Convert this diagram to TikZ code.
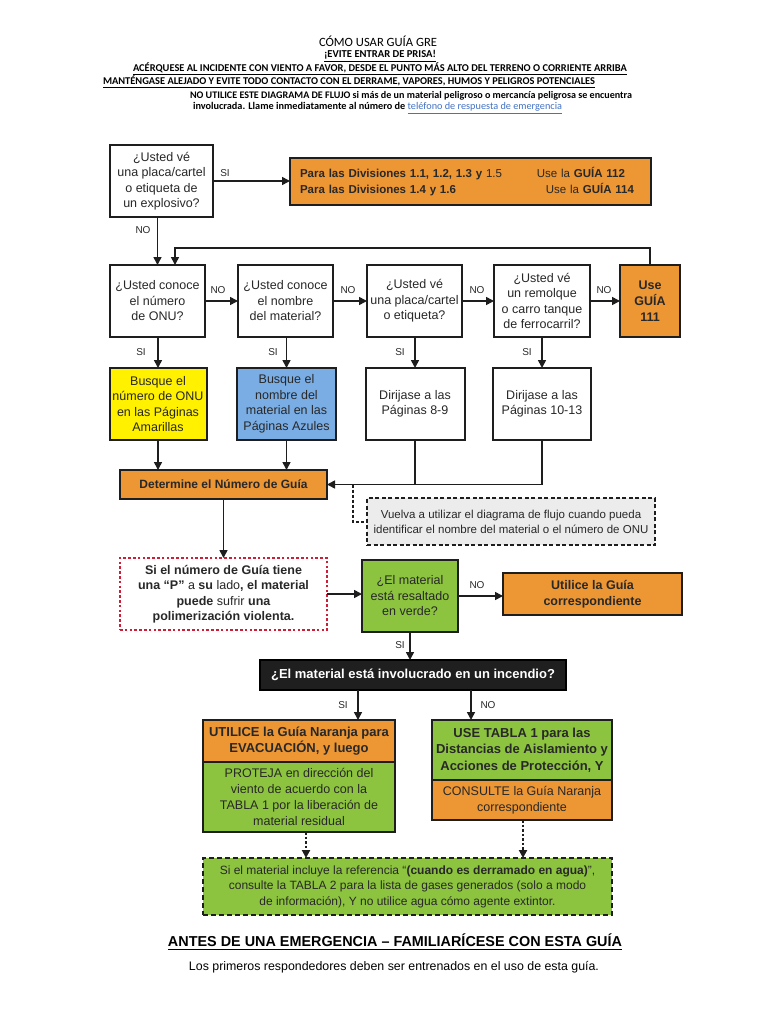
\documentclass[tikz,border=0pt]{standalone}
\usepackage{fontspec}
\setmainfont{Liberation Sans}
\newfontfamily\calib{Carlito}
\usetikzlibrary{arrows.meta}
\definecolor{gorange}{RGB}{236,150,52}
\definecolor{ggreen}{RGB}{141,196,63}
\definecolor{gyellow}{RGB}{255,241,0}
\definecolor{gblue}{RGB}{122,173,228}
\definecolor{ggrey}{RGB}{236,236,236}
\definecolor{gred}{RGB}{205,30,55}
\definecolor{glink}{RGB}{68,114,196}
\definecolor{gtext}{RGB}{40,40,40}
\definecolor{gline}{RGB}{30,30,30}
\newcommand\myfs[2]{\fontsize{#1}{#2}\selectfont}
\begin{document}
\begin{tikzpicture}[x=1pt,y=-1pt,
  box/.style={draw=gline, line width=2pt, fill=white, align=center, inner sep=0pt, outer sep=0pt, text=gtext, font=\myfs{12.5}{15.5}},
  lab/.style={font=\myfs{10}{12}, text=gtext, inner sep=0pt},
  arr/.style={draw=gline, line width=1.6pt, -{Triangle[length=8pt,width=8pt]}},
  ln/.style={draw=gline, line width=1.6pt},
  dashln/.style={draw=gline, line width=2pt, dash pattern=on 3pt off 2pt},
  dotarr/.style={draw=gline, line width=2.4pt, dash pattern=on 2.5pt off 2pt, -{Triangle[length=8pt,width=8pt]}},
  hdr/.style={inner sep=0pt, outer sep=0pt}
]
\useasboundingbox[fill=white] (0,0) rectangle (768,1024);

% ---------- header ----------
\node[hdr] (h1) at (378,41) {\resizebox{118pt}{!}{\calib CÓMO USAR GUÍA GRE}};
\node[hdr] (h2) at (380,56) {\resizebox{112pt}{!}{\calib\bfseries\underline{¡EVITE ENTRAR DE PRISA!}}};
\node[hdr, anchor=west] (h3) at (133,69) {\resizebox{494pt}{!}{\calib\bfseries\underline{ACÉRQUESE AL INCIDENTE CON VIENTO A FAVOR, DESDE EL PUNTO MÁS ALTO DEL TERRENO O CORRIENTE ARRIBA}}};
\node[hdr, anchor=west] (h4) at (103,82) {\resizebox{492pt}{!}{\calib\bfseries\underline{MANTÉNGASE ALEJADO Y EVITE TODO CONTACTO CON EL DERRAME, VAPORES, HUMOS Y PELIGROS POTENCIALES}}};
\node[hdr, anchor=west] (h5) at (190,96) {\resizebox{442pt}{!}{\calib\bfseries NO UTILICE ESTE DIAGRAMA DE FLUJO si más de un material peligroso o mercancía peligrosa se encuentra}};
\node[hdr, anchor=west] (h6) at (193,108) {\resizebox{369pt}{!}{\calib\bfseries involucrada. Llame inmediatamente al número de \mdseries\textcolor{glink}{\underline{teléfono de respuesta de emergencia}}}};

% ---------- row 1 ----------
\node[box, minimum width=103pt, minimum height=72pt] (q1) at (161.5,181) {¿Usted vé\\una placa/cartel\\o etiqueta de\\un explosivo?};
\node[box, fill=gorange, minimum width=361pt, minimum height=47pt, text width=341pt, align=left, font=\myfs{11.5}{16}] (div) at (470.5,181.5)
  {\makebox[325pt][l]{\textbf{Para las Divisiones 1.1, 1.2, 1.3 y} 1.5\hfill Use la \textbf{GUÍA 112}}\\
   \makebox[334pt][l]{\textbf{Para las Divisiones 1.4 y 1.6}\hfill Use la \textbf{GUÍA 114}}};
\draw[arr] (q1.east) -- (q1.east -| div.west);
\node[lab] (si1) at (225,173) {SI};

% ---------- row 2 ----------
\node[box, minimum width=95pt, minimum height=72pt] (onu) at (157.5,301) {¿Usted conoce\\el número\\de ONU?};
\node[box, minimum width=95pt, minimum height=72pt] (nom) at (285.5,301) {¿Usted conoce\\el nombre\\del material?};
\node[box, minimum width=95pt, minimum height=72pt] (pla) at (414.5,301) {¿Usted vé\\una placa/cartel\\o etiqueta?};
\node[box, minimum width=96pt, minimum height=72pt] (rem) at (542,301) {¿Usted vé\\un remolque\\o carro tanque\\de ferrocarril?};
\node[box, fill=gorange, minimum width=60pt, minimum height=72pt, font=\bfseries\myfs{12.5}{16}] (g111) at (650,301) {Use\\GUÍA\\111};

\draw[arr] (onu.north |- q1.south) -- (onu.north);
\node[lab] (no1) at (143,230) {NO};
\draw[arr] (g111.north) -- ++(0,-17) -| ([xshift=17.5pt]onu.north);

\draw[arr] (onu.east) -- (nom.west);
\draw[arr] (nom.east) -- (pla.west);
\draw[arr] (pla.east) -- (rem.west);
\draw[arr] (rem.east) -- (g111.west);
\node[lab] (no2) at (218,290) {NO};
\node[lab] (no3) at (348,290) {NO};
\node[lab] (no4) at (477,290) {NO};
\node[lab] (no5) at (604,290) {NO};

% ---------- row 3 ----------
\node[box, fill=gyellow, minimum width=97pt, minimum height=72pt] (yel) at (158,404) {Busque el\\número de ONU\\en las Páginas\\Amarillas};
\node[box, fill=gblue, minimum width=99pt, minimum height=72pt] (blu) at (286.5,404) {Busque el\\nombre del\\material en las\\Páginas Azules};
\node[box, minimum width=99pt, minimum height=72pt] (p89) at (415,404) {Dirijase a las\\Páginas 8-9};
\node[box, minimum width=98pt, minimum height=72pt] (p1013) at (542,404) {Dirijase a las\\Páginas 10-13};

\draw[arr] (onu.south -| yel.north) -- (yel.north);
\draw[arr] (nom.south -| blu.north) -- (blu.north);
\draw[arr] (pla.south -| p89.north) -- (p89.north);
\draw[arr] (rem.south) -- (rem.south |- p1013.north);
\node[lab] (si2) at (141,352) {SI};
\node[lab] (si3) at (273,352) {SI};
\node[lab] (si4) at (400,352) {SI};
\node[lab] (si5) at (527,352) {SI};

% ---------- determine ----------
\node[box, fill=gorange, minimum width=207pt, minimum height=29pt, font=\bfseries\myfs{12}{14}] (det) at (223.5,484.5) {Determine el Número de Guía};
\draw[arr] (yel.south) -- (yel.south |- det.north);
\draw[arr] (blu.south) -- (blu.south |- det.north);
\draw[ln] (p89.south) -- (p89.south |- det.east);
\draw[arr] (p1013.south) |- (det.east);

\node[box, fill=ggrey, draw=gline, line width=2.2pt, dash pattern=on 4pt off 2.5pt, minimum width=288pt, minimum height=47pt, font=\myfs{11.5}{15}] (vue) at (511,521.5) {Vuelva a utilizar el diagrama de flujo cuando pueda\\identificar el nombre del material o el número de ONU};
\coordinate (dj) at (353,484.5);
\draw[dashln] (dj) |- (vue.west);

% ---------- P box & green question ----------
\node[box, draw=gred, line width=2.6pt, dash pattern=on 2.6pt off 2.2pt, minimum width=207pt, minimum height=72pt, font=\myfs{12.5}{15.5}] (pbx) at (223.5,594)
  {\textbf{Si el número de Guía tiene}\\\textbf{una “P”} a \textbf{su} lado\textbf{, el material}\\\textbf{puede} sufrir \textbf{una}\\\textbf{polimerización violenta.}};
\draw[arr] (det.south) -- (pbx.north);

\node[box, fill=ggreen, minimum width=96pt, minimum height=72pt] (grq) at (410,596) {¿El material\\está resaltado\\en verde?};
\draw[arr] (pbx.east) -- (pbx.east -| grq.west);
\node[box, fill=gorange, minimum width=179pt, minimum height=42pt, font=\bfseries\myfs{12.5}{15.5}] (uti) at (592.5,594) {Utilice la Guía\\correspondiente};
\draw[arr] (grq.east) -- (grq.east -| uti.west);
\node[lab] (no6) at (477,585) {NO};

% ---------- fire question ----------
\node[box, fill=black!88, draw=black, text=white, minimum width=306pt, minimum height=30pt, font=\bfseries\myfs{13}{15}] (fire) at (413,675) {¿El material está involucrado en un incendio?};
\draw[arr] (grq.south) -- (grq.south |- fire.north);
\node[lab] (si6) at (400,645) {SI};

% ---------- bottom boxes ----------
\node[box, fill=gorange, minimum width=192pt, minimum height=42pt, font=\bfseries\myfs{13}{16}] (eva) at (299,741) {UTILICE la Guía Naranja para\\EVACUACIÓN, y luego};
\node[box, fill=ggreen, minimum width=192pt, minimum height=70pt, font=\myfs{12.5}{16}] (pro) at (299,797) {PROTEJA en dirección del\\viento de acuerdo con la\\TABLA 1 por la liberación de\\material residual};
\node[box, fill=ggreen, minimum width=180pt, minimum height=60pt, font=\bfseries\myfs{13}{16.5}] (tab) at (522,750) {USE TABLA 1 para las\\Distancias de Aislamiento y\\Acciones de Protección, Y};
\node[box, fill=gorange, minimum width=180pt, minimum height=40pt, font=\myfs{12.5}{16}] (con) at (522,800) {CONSULTE la Guía Naranja\\correspondiente};

\coordinate (fsi) at (358,690);
\coordinate (fno) at (471,690);
\draw[arr] (fsi) -- (fsi |- eva.north);
\draw[arr] (fno) -- (fno |- tab.north);
\node[lab] (si7) at (343,705) {SI};
\node[lab] (no7) at (488,705) {NO};

\node[box, fill=ggreen, line width=2.6pt, dash pattern=on 5pt off 3pt, minimum width=409pt, minimum height=57pt, font=\myfs{12}{15.5}] (wat) at (407.5,886.5)
  {Si el material incluye la referencia “\textbf{(cuando es derramado en agua)}”,\\consulte la TABLA 2 para la lista de gases generados (solo a modo\\de información), Y no utilice agua cómo agente extintor.};
\coordinate (dl) at (306,832);
\coordinate (dr) at (523,820);
\draw[dotarr] (dl) -- (dl |- wat.north);
\draw[dotarr] (dr) -- (dr |- wat.north);

% ---------- footer ----------
\node[hdr] (f1) at (395,942) {\resizebox{454pt}{!}{\textbf{\underline{ANTES DE UNA EMERGENCIA – FAMILIARÍCESE CON ESTA GUÍA}}}};
\node[hdr] (f2) at (394,967) {\resizebox{410pt}{!}{Los primeros respondedores deben ser entrenados en el uso de esta guía.}};
\end{tikzpicture}
\end{document}
